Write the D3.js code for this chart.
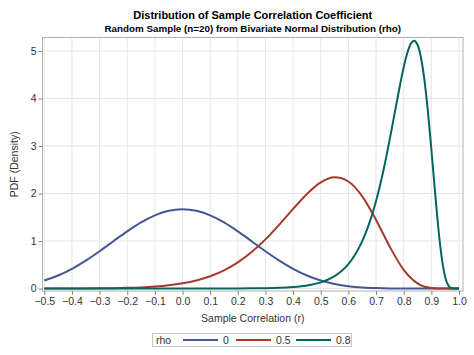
<!DOCTYPE html>
<html>
<head>
<meta charset="utf-8">
<script src="https://cdn.jsdelivr.net/npm/d3@7"></script>
<style>
  html, body { margin: 0; padding: 0; background: #fff; }
  svg { display: block; font-family: "Liberation Sans", Arial, sans-serif; }
</style>
</head>
<body>
<svg id="chart" width="474" height="355"></svg>
<script>
// ---- data ----
const xTicks = [-0.5, -0.4, -0.3, -0.2, -0.1, 0.0, 0.1, 0.2, 0.3, 0.4, 0.5, 0.6, 0.7, 0.8, 0.9, 1.0];
const yTicks = [0, 1, 2, 3, 4, 5];
const rhoLabels = ["0", "0.5", "0.8"];

const rGrid = [-0.5, -0.45, -0.4, -0.35, -0.3, -0.25, -0.2, -0.15, -0.1, -0.05, 0,
  0.05, 0.1, 0.15, 0.2, 0.25, 0.3, 0.35, 0.4, 0.45, 0.5,
  0.55, 0.6, 0.65, 0.7, 0.75, 0.8, 0.85, 0.9, 0.95, 1.0];

const pdfRho0 = [0.167, 0.273, 0.414, 0.587, 0.785, 0.996, 1.204, 1.391, 1.540, 1.636, 1.669,
  1.636, 1.540, 1.391, 1.204, 0.996, 0.785, 0.587, 0.414, 0.273, 0.167,
  0.094, 0.047, 0.021, 0.008, 0.002, 0.0005, 0.0001, 0, 0, 0];

const pdfRho05 = [0.0002, 0.0004, 0.0009, 0.0019, 0.0038, 0.0073, 0.0134, 0.0237, 0.0405, 0.0672, 0.1086,
  0.170, 0.259, 0.383, 0.551, 0.768, 1.034, 1.344, 1.675, 1.990, 2.234,
  2.342, 2.253, 1.941, 1.444, 0.875, 0.392, 0.107, 0.012, 0.0001, 0];

const rGrid08 = [-0.5, -0.4, -0.3, -0.2, -0.1, 0, 0.05, 0.1, 0.15, 0.2, 0.25, 0.3, 0.35, 0.4, 0.45, 0.5,
  0.525, 0.55, 0.575, 0.6, 0.625, 0.65, 0.675, 0.7, 0.725, 0.75, 0.775, 0.8, 0.8125, 0.825, 0.8375,
  0.85, 0.8625, 0.875, 0.8875, 0.9, 0.9125, 0.925, 0.9375, 0.95, 0.9625, 0.975, 0.9875, 1.0];

const pdfRho08 = [0, 0, 0, 0, 0, 0.0001, 0.0002, 0.0004, 0.0009, 0.0019, 0.0038, 0.0077, 0.0156, 0.0317, 0.0643, 0.1298,
  0.1841, 0.2604, 0.3671, 0.5155, 0.7195, 0.9963, 1.3651, 1.8439, 2.4434, 3.1543, 3.9290, 4.6572, 4.9466, 5.1454, 5.2184,
  5.1316, 4.8579, 4.3857, 3.7278, 2.9320, 2.0808, 1.2839, 0.6497, 0.2442, 0.0566, 0.0053, 0.0001, 0];

const colors = ["#445694", "#A23A2E", "#01665E"];

// ---- layout ----
const svg = d3.select("#chart");
const frame = { left: 42.5, right: 463, top: 37.5, bottom: 291 };

const x = d3.scaleLinear().domain([-0.5, 1.0]).range([44.3, 459]);
const y = d3.scaleLinear().domain([0, 5]).range([288.5, 51]);

// gridlines
const grid = svg.append("g");
grid.selectAll("line.vx").data(xTicks).join("line")
  .attr("x1", d => x(d)).attr("x2", d => x(d))
  .attr("y1", frame.top).attr("y2", frame.bottom)
  .attr("stroke", "#e6e6e6").attr("stroke-width", 1);
grid.selectAll("line.hy").data(yTicks).join("line")
  .attr("x1", frame.left).attr("x2", frame.right)
  .attr("y1", d => y(d)).attr("y2", d => y(d))
  .attr("stroke", "#e6e6e6").attr("stroke-width", 1);

// frame
svg.append("rect")
  .attr("x", frame.left).attr("y", frame.top)
  .attr("width", frame.right - frame.left).attr("height", frame.bottom - frame.top)
  .attr("fill", "none").attr("stroke", "#b0b0b0").attr("stroke-width", 1);

// axes
const xAxis = d3.axisBottom(x).tickValues(xTicks).tickFormat(d3.format(".1f")).tickSize(4).tickSizeOuter(0);
const gx = svg.append("g").attr("transform", `translate(0,${frame.bottom})`).call(xAxis);
gx.select(".domain").remove();
gx.selectAll(".tick line").attr("stroke", "#888");
gx.selectAll(".tick text").attr("fill", "#333").attr("font-size", "10.5px")
  .attr("font-family", "'Liberation Sans', Arial, sans-serif").attr("dy", "0.75em").attr("y", 6);

const yAxis = d3.axisLeft(y).tickValues(yTicks).tickFormat(d3.format("d")).tickSize(4).tickSizeOuter(0);
const gy = svg.append("g").attr("transform", `translate(${frame.left},0)`).call(yAxis);
gy.select(".domain").remove();
gy.selectAll(".tick line").attr("stroke", "#888");
gy.selectAll(".tick text").attr("fill", "#333").attr("font-size", "10.5px")
  .attr("font-family", "'Liberation Sans', Arial, sans-serif").attr("x", -6);

// curves
const clip = svg.append("clipPath").attr("id", "plotclip").append("rect")
  .attr("x", frame.left).attr("y", frame.top)
  .attr("width", frame.right - frame.left).attr("height", frame.bottom - frame.top);

const series = [
  { xs: rGrid, ys: pdfRho0, color: colors[0] },
  { xs: rGrid, ys: pdfRho05, color: colors[1] },
  { xs: rGrid08, ys: pdfRho08, color: colors[2] }
];
const line = d3.line().x(d => x(d[0])).y(d => y(d[1])).curve(d3.curveMonotoneX);
svg.append("g").attr("clip-path", "url(#plotclip)")
  .selectAll("path").data(series).join("path")
  .attr("d", s => line(s.xs.map((v, i) => [v, s.ys[i]])))
  .attr("fill", "none").attr("stroke", s => s.color).attr("stroke-width", 2)
  .attr("stroke-linejoin", "round");

// titles
const cx = (frame.left + frame.right) / 2;
svg.append("text").attr("x", cx).attr("y", 19).attr("text-anchor", "middle")
  .attr("font-size", "11px").attr("font-weight", "bold").attr("fill", "#000")
  .text("Distribution of Sample Correlation Coefficient");
svg.append("text").attr("x", cx).attr("y", 32).attr("text-anchor", "middle")
  .attr("font-size", "9.8px").attr("font-weight", "bold").attr("fill", "#000")
  .text("Random Sample (n=20) from Bivariate Normal Distribution (rho)");

svg.append("text").attr("x", cx).attr("y", 322).attr("text-anchor", "middle")
  .attr("font-size", "10.5px").attr("fill", "#333")
  .text("Sample Correlation (r)");

svg.append("text").attr("transform", `translate(18,${(frame.top + frame.bottom) / 2}) rotate(-90)`)
  .attr("text-anchor", "middle").attr("font-size", "10.5px").attr("fill", "#333")
  .text("PDF (Density)");

// legend
const lg = svg.append("g");
lg.append("rect").attr("x", 152.5).attr("y", 333.5).attr("width", 199).attr("height", 13)
  .attr("fill", "none").attr("stroke", "#c8c8c8");
lg.append("text").attr("x", 156).attr("y", 344).attr("font-size", "10.5px").attr("fill", "#333").text("rho");
const legX = [183, 236, 296];
rhoLabels.forEach((lab, i) => {
  lg.append("line").attr("x1", legX[i]).attr("x2", legX[i] + 35)
    .attr("y1", 340).attr("y2", 340).attr("stroke", colors[i]).attr("stroke-width", 2);
  lg.append("text").attr("x", legX[i] + 40).attr("y", 344).attr("font-size", "10.5px")
    .attr("fill", "#333").text(lab);
});
</script>
</body>
</html>
